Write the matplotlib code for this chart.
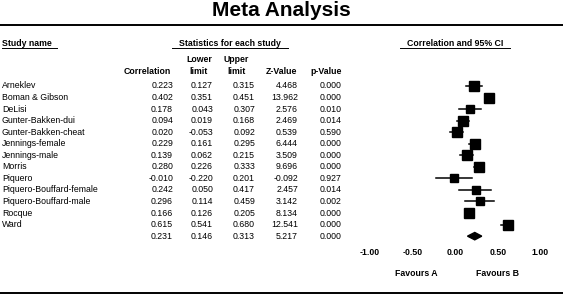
import numpy as np
import matplotlib
matplotlib.use('Agg')
import matplotlib.pyplot as plt
from matplotlib.patches import Polygon

plt.rcParams['font.family'] = ['Liberation Sans', 'DejaVu Sans']

studies = ['Arneklev', 'Boman & Gibson', 'DeLisi', 'Gunter-Bakken-dui', 'Gunter-Bakken-cheat',
           'Jennings-female', 'Jennings-male', 'Morris', 'Piquero', 'Piquero-Bouffard-female',
           'Piquero-Bouffard-male', 'Rocque', 'Ward']
correlation = [0.223, 0.402, 0.178, 0.094, 0.020, 0.229, 0.139, 0.280, -0.010, 0.242, 0.296, 0.166, 0.615]
lower = [0.127, 0.351, 0.043, 0.019, -0.053, 0.161, 0.062, 0.226, -0.220, 0.050, 0.114, 0.126, 0.541]
upper = [0.315, 0.451, 0.307, 0.168, 0.092, 0.295, 0.215, 0.333, 0.201, 0.417, 0.459, 0.205, 0.680]
z_value = [4.468, 13.962, 2.576, 2.469, 0.539, 6.444, 3.509, 9.696, -0.092, 2.457, 3.142, 8.134, 12.541]
p_value = [0.000, 0.000, 0.010, 0.014, 0.590, 0.000, 0.000, 0.000, 0.927, 0.014, 0.002, 0.000, 0.000]

summary = [0.231, 0.146, 0.313, 5.217, 0.000]

ticks = [-1.0, -0.5, 0.0, 0.5, 1.0]

W, H = 563, 295
fig = plt.figure(figsize=(W / 100, H / 100), dpi=100)

# layout axes in pixel units
lay = fig.add_axes([0, 0, 1, 1])
lay.set_xlim(0, W)
lay.set_ylim(H, 0)
lay.axis('off')

row0, step = 86, 11.55
n = len(studies)


def row_y(i):
    return row0 + i * step


fs = 6.3
lay.text(281, 11, 'Meta Analysis', fontsize=15, fontweight='bold', ha='center', va='center')
lay.plot([0, W], [25, 25], color='black', lw=1.4)
lay.plot([0, W], [293, 293], color='black', lw=1.4)

# group headers with underline
lay.text(2, 43, 'Study name', fontsize=fs, fontweight='bold', ha='left', va='center')
lay.plot([2, 57], [48, 48], color='black', lw=0.7)
lay.text(230, 43, 'Statistics for each study', fontsize=fs, fontweight='bold', ha='center', va='center')
lay.plot([172, 288], [48, 48], color='black', lw=0.7)
lay.text(455, 43, 'Correlation and 95% CI', fontsize=fs, fontweight='bold', ha='center', va='center')
lay.plot([400, 510], [48, 48], color='black', lw=0.7)

# column headers
lay.text(171, 72, 'Correlation', fontsize=fs, fontweight='bold', ha='right', va='center')
lay.text(199, 60, 'Lower', fontsize=fs, fontweight='bold', ha='center', va='center')
lay.text(199, 72, 'limit', fontsize=fs, fontweight='bold', ha='center', va='center')
lay.text(236, 60, 'Upper', fontsize=fs, fontweight='bold', ha='center', va='center')
lay.text(236, 72, 'limit', fontsize=fs, fontweight='bold', ha='center', va='center')
lay.text(297, 72, 'Z-Value', fontsize=fs, fontweight='bold', ha='right', va='center')
lay.text(342, 72, 'p-Value', fontsize=fs, fontweight='bold', ha='right', va='center')

col_right = [173, 213, 255, 298, 342]
for i in range(n):
    y = row_y(i)
    lay.text(2, y, studies[i], fontsize=fs, ha='left', va='center')
    vals = [correlation[i], lower[i], upper[i], z_value[i], p_value[i]]
    for x, v in zip(col_right, vals):
        lay.text(x, y, '%.3f' % v, fontsize=fs, ha='right', va='center')
for x, v in zip(col_right, summary):
    lay.text(x, row_y(n), '%.3f' % v, fontsize=fs, ha='right', va='center')

# forest plot axes: x in correlation units, y in row index
x_lo, x_hi = 369.5, 540.5
ax = fig.add_axes([x_lo / W, 0, (x_hi - x_lo) / W, 1])
ax.set_xlim(-1, 1)
ax.set_ylim((H - row0) / step, -row0 / step)
ax.axis('off')
ax.patch.set_alpha(0)

prec = 1 / (np.array(upper) - np.array(lower))
msize = 6.2 + 1.2 * (prec - prec.min()) / (prec.max() - prec.min())
for i in range(n):
    ax.plot([lower[i], upper[i]], [i, i], color='black', lw=1.1)
    ax.plot(correlation[i], i, marker='s', color='black', markersize=msize[i], linestyle='none')

s_est, s_lo, s_hi = summary[0], summary[1], summary[2]
ax.add_patch(Polygon([[s_lo, n], [s_est, n - 0.32], [s_hi, n], [s_est, n + 0.32]],
                     closed=True, color='black'))

tick_y = (253 - row0) / step
for t in ticks:
    ax.text(t, tick_y, '%.2f' % t, fontsize=fs, fontweight='bold', ha='center', va='center')
fav_y = (273 - row0) / step
ax.text(-0.45, fav_y, 'Favours A', fontsize=fs, fontweight='bold', ha='center', va='center')
ax.text(0.5, fav_y, 'Favours B', fontsize=fs, fontweight='bold', ha='center', va='center')

fig.savefig('out.png', dpi=100)
